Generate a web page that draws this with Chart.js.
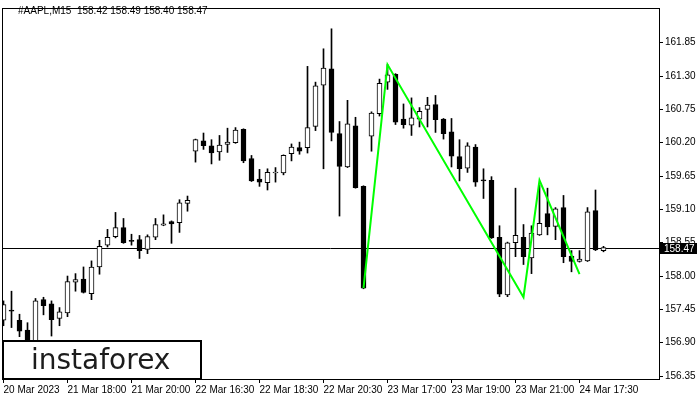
<!DOCTYPE html>
<html>
<head>
<meta charset="utf-8">
<script src="https://cdn.jsdelivr.net/npm/chart.js@4.4.0/dist/chart.umd.min.js"></script>
<style>
  html, body { margin: 0; padding: 0; background: #fff; }
  canvas { display: block; }
</style>
</head>
<body>
<canvas id="myChart" width="700" height="400"></canvas>
<script>
// candles, one per M15 bar
var opens = [
  157.27, 157.43, 157.27, 157.11, 156.85, 157.61, 157.54, 157.30, 157.39, 157.90,
  157.95, 157.71, 158.15, 158.51, 158.65, 158.80, 158.59, 158.60, 158.44, 158.64,
  158.84, 158.90, 158.88, 159.20, 160.06, 160.23, 160.15, 160.05, 160.17, 160.20,
  160.42, 159.94, 159.60, 159.54, 159.70, 159.70, 160.02, 160.12, 160.12, 160.47,
  161.15, 161.42, 160.35, 159.80, 160.48, 159.48, 160.31, 160.68, 161.20, 161.33,
  160.59, 160.49, 160.59, 160.75, 160.83, 160.59, 160.38, 159.97, 159.78, 160.13,
  159.58, 159.58, 158.64, 157.69, 158.55, 158.64, 158.30, 158.68, 159.03, 158.82,
  159.13, 158.33, 158.24, 158.25, 159.08, 158.42
];
var highs = [
  157.59, 157.75, 157.37, 157.23, 157.63, 157.65, 157.59, 157.48, 158.00, 158.04,
  158.15, 158.25, 158.59, 158.77, 159.05, 158.95, 158.69, 158.67, 158.68, 158.95,
  159.01, 158.91, 159.26, 159.32, 160.26, 160.36, 160.25, 160.32, 160.44, 160.45,
  160.43, 159.99, 159.76, 159.77, 159.79, 160.00, 160.18, 160.21, 161.46, 161.20,
  161.75, 162.08, 160.55, 160.90, 160.62, 159.49, 160.71, 161.25, 161.49, 161.34,
  160.84, 160.94, 160.78, 160.95, 160.98, 160.60, 160.60, 160.25, 160.20, 160.17,
  159.77, 159.64, 158.83, 158.56, 159.45, 158.85, 158.83, 159.50, 159.45, 159.13,
  159.33, 158.42, 158.42, 159.13, 159.42, 158.49
];
var lows = [
  157.18, 157.15, 157.00, 156.77, 156.80, 157.36, 157.01, 157.18, 157.33, 157.75,
  157.72, 157.61, 158.03, 158.48, 158.63, 158.54, 158.51, 158.29, 158.37, 158.60,
  158.83, 158.54, 158.72, 159.07, 159.88, 160.09, 159.85, 159.91, 160.04, 160.19,
  159.87, 159.56, 159.48, 159.42, 159.55, 159.67, 159.90, 160.01, 160.03, 160.40,
  159.77, 160.23, 158.99, 159.79, 159.45, 157.79, 160.06, 160.64, 161.08, 160.50,
  160.44, 160.32, 160.46, 160.46, 160.37, 160.26, 159.80, 159.57, 159.71, 159.48,
  159.28, 158.62, 157.66, 157.66, 158.32, 158.19, 158.04, 158.67, 158.68, 158.60,
  158.22, 158.07, 158.23, 158.24, 158.42, 158.40
];
var closes = [
  157.53, 157.42, 157.09, 156.89, 157.59, 157.51, 157.28, 157.41, 157.91, 157.94,
  157.73, 158.15, 158.49, 158.64, 158.80, 158.55, 158.57, 158.42, 158.65, 158.85,
  158.86, 158.86, 159.21, 159.25, 160.25, 160.15, 160.03, 160.16, 160.21, 160.41,
  159.90, 159.57, 159.55, 159.71, 159.71, 159.99, 160.13, 160.06, 160.45, 161.14,
  161.43, 160.37, 159.81, 160.51, 159.46, 157.80, 160.69, 161.18, 161.32, 160.54,
  160.50, 160.61, 160.72, 160.82, 160.58, 160.35, 159.98, 159.77, 160.15, 159.55,
  159.57, 158.63, 157.70, 158.55, 158.67, 158.32, 158.71, 158.87, 158.81, 159.11,
  158.32, 158.24, 158.28, 159.06, 158.43, 158.47
];

// green zigzag pattern
var zigzagBars = [45, 48, 65, 67, 72];
var zigzagPrices = [157.80, 161.49, 157.65, 159.58, 158.03];

// axes
var timeLabelBars = [0, 8, 16, 24, 32, 40, 48, 56, 64, 72];
var timeLabels = [
  "20 Mar 2023", "21 Mar 18:00", "21 Mar 20:00", "22 Mar 16:30", "22 Mar 18:30",
  "22 Mar 20:30", "23 Mar 17:00", "23 Mar 19:00", "23 Mar 21:00", "24 Mar 17:30"
];
var priceTicks = [156.35, 156.90, 157.45, 158.00, 158.55, 159.10, 159.65, 160.20, 160.75, 161.30, 161.85];
var symbol = "#AAPL,M15";
var lastPrice = 158.47;

var wicks = [], bodies = [], bodyFill = [];
for (var i = 0; i < opens.length; i++) {
  wicks.push({ x: i, y: [lows[i], highs[i]] });
  bodies.push({ x: i, y: [opens[i], closes[i]] });
  bodyFill.push(closes[i] >= opens[i] ? "#ffffff" : "#000000");
}
var zigzag = zigzagBars.map(function (b, k) { return { x: b, y: zigzagPrices[k] }; });

var n = opens.length - 1;
var header = symbol + "  " + [opens[n], highs[n], lows[n], closes[n]].map(function (v) { return v.toFixed(2); }).join(" ");

var axisFont = { family: "Liberation Sans", size: 10 };

var overlay = {
  id: "overlay",
  beforeDatasetsDraw: function (chart) {
    var ctx = chart.ctx, a = chart.chartArea;
    var y = Math.round(chart.scales.y.getPixelForValue(lastPrice)) + 0.5;
    ctx.save();
    ctx.strokeStyle = "#000";
    ctx.lineWidth = 1;
    ctx.beginPath();
    ctx.moveTo(a.left, y);
    ctx.lineTo(a.right, y);
    ctx.stroke();
    ctx.restore();
  },
  afterDraw: function (chart) {
    var ctx = chart.ctx, a = chart.chartArea;
    ctx.save();
    // frame
    ctx.strokeStyle = "#000";
    ctx.lineWidth = 1;
    ctx.strokeRect(a.left + 0.5, a.top + 0.5, a.right - a.left, a.bottom - a.top);

    // logo box
    ctx.fillStyle = "#fff";
    ctx.fillRect(a.left, 340, 199, a.bottom - 340);
    ctx.lineWidth = 2;
    ctx.strokeRect(a.left + 1, 341, 198, a.bottom - 341);
    ctx.fillStyle = "#1c1c1c";
    ctx.font = '28px "DejaVu Sans"';
    ctx.textBaseline = "alphabetic";
    ctx.textAlign = "left";
    ctx.fillText("instaforex", 31, 369);

    // header
    ctx.fillStyle = "#000";
    ctx.font = '10px "Liberation Sans"';
    ctx.textBaseline = "middle";
    ctx.fillText(header, 18, 11);

    // last price tag
    var py = Math.round(chart.scales.y.getPixelForValue(lastPrice));
    ctx.fillStyle = "#000";
    ctx.fillRect(a.right + 1, py - 5, 37, 11);
    ctx.fillStyle = "#fff";
    ctx.fillText(lastPrice.toFixed(2), a.right + 5, py + 1);
    ctx.restore();
  }
};

var config = {
  type: "bar",
  data: {
    datasets: [
      {
        type: "line",
        data: zigzag,
        borderColor: "#00ff00",
        borderWidth: 2,
        pointRadius: 0,
        tension: 0,
        order: 0
      },
      {
        data: bodies,
        backgroundColor: bodyFill,
        borderColor: "#000000",
        borderWidth: 1,
        borderSkipped: false,
        barThickness: 5,
        minBarLength: 1,
        grouped: false,
        order: 1
      },
      {
        data: wicks,
        backgroundColor: "#000000",
        barThickness: 1,
        grouped: false,
        order: 2
      }
    ]
  },
  options: {
    responsive: false,
    animation: false,
    layout: { padding: { left: 2, top: 2, right: 0, bottom: 0 } },
    plugins: {
      legend: { display: false },
      tooltip: { enabled: false }
    },
    scales: {
      x: {
        type: "linear",
        min: -0.1875,
        max: 81.9375,
        offset: false,
        afterBuildTicks: function (s) {
          s.ticks = timeLabelBars.map(function (v) { return { value: v }; });
        },
        afterFit: function (s) { s.height = 21; },
        grid: { drawOnChartArea: false, drawTicks: true, tickLength: 4, color: "#000", offset: false },
        border: { display: false },
        ticks: {
          color: "#000",
          font: axisFont,
          align: "start",
          autoSkip: false,
          maxRotation: 0,
          padding: 1,
          callback: function (v) { return timeLabels[timeLabelBars.indexOf(v)]; }
        }
      },
      y: {
        type: "linear",
        position: "right",
        min: 156.3011,
        max: 162.4232,
        afterBuildTicks: function (s) {
          s.ticks = priceTicks.map(function (v) { return { value: v }; });
        },
        afterFit: function (s) { s.width = 41; },
        grid: { drawOnChartArea: false, drawTicks: true, tickLength: 4, color: "#000" },
        border: { display: false },
        ticks: {
          color: "#000",
          font: axisFont,
          padding: 2,
          autoSkip: false,
          callback: function (v) { return Number(v).toFixed(2); }
        }
      }
    }
  },
  plugins: [overlay]
};

var myChart = new Chart(document.getElementById("myChart"), config);
</script>
</body>
</html>
